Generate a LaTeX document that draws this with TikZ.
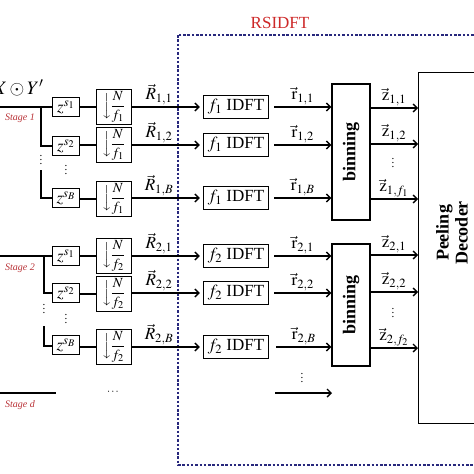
\documentclass[tikz,border=0pt]{standalone}
\usepackage{mathptmx}
\usepackage{fontspec}
\setmainfont{Liberation Serif}
\usetikzlibrary{arrows.meta}
\definecolor{rsred}{RGB}{205,40,40}
\definecolor{stred}{RGB}{185,50,55}
\definecolor{navy}{RGB}{40,40,125}
\newcommand{\dsamp}[1]{$\Big\downarrow\!\displaystyle\frac{N}{f_{#1}}$}
\begin{document}
\begin{tikzpicture}[x=1pt,y=-1pt,
  font=\fontsize{17}{19}\selectfont,
  blk/.style={draw, line width=1.4pt, inner sep=0pt, fill=white},
  zbox/.style={blk, minimum width=27pt, minimum height=19pt, font=\fontsize{17}{19}\selectfont},
  dsbox/.style={blk, minimum width=35pt, minimum height=35pt, font=\fontsize{14}{16}\selectfont},
  idft/.style={blk, minimum width=65pt, minimum height=23pt},
  binbox/.style={blk, minimum width=38pt, font=\fontsize{18}{20}\selectfont\bfseries},
  conn/.style={line width=1.4pt},
  arr/.style={conn, -{Straight Barb[length=4pt,width=8pt]}},
  stagelbl/.style={text=stred, font=\fontsize{10}{11}\selectfont\itshape},
  lbl/.style={inner sep=1.5pt},
  dotsnode/.style={inner sep=0pt, font=\fontsize{11}{11}\selectfont}]
\path[use as bounding box, clip] (0,0) rectangle (474,474);

% RSIDFT frame
\draw[navy, line width=1.3pt, dash pattern=on 2.5pt off 1.8pt] (178,35) rectangle (500,465);
\node[text=rsred, font=\fontsize{17}{19}\selectfont] (rs) at (280,23) {RSIDFT};

% ---------------- Stage 1 ----------------
\node[anchor=east, font=\fontsize{19}{21}\selectfont] (xin) at (47,88) {$X\odot Y'$};
\node[stagelbl] (st1) at (20,118) {Stage 1};
\node[zbox] (z11) at (66,107) {$z^{s_1}$};
\node[zbox] (z12) at (66,146) {$z^{s_2}$};
\node[zbox] (z1B) at (66,198) {$z^{s_B}$};
\node[dsbox] (d11) at (114,107) {\dsamp{1}};
\node[dsbox] (d12) at (114,145) {\dsamp{1}};
\node[dsbox] (d1B) at (114,199) {\dsamp{1}};
\node[idft] (i11) at (236,107) {$f_1$ IDFT};
\node[idft] (i12) at (236,145) {$f_1$ IDFT};
\node[idft] (i1B) at (236,198) {$f_1$ IDFT};
\node[binbox, minimum height=136pt] (bin1) at (351,152) {\rotatebox{90}{binning}};

\coordinate (in1) at (0,107);
\coordinate (b11) at (41,107);
\coordinate (b12) at (41,146);
\coordinate (b1t) at (41,170);
\coordinate (b1B) at (41,198);
\draw[conn] (in1) -- (z11.west);
\draw[conn] (b11) -- (b12) -- (z12.west);
\draw[conn] (b1t) -- (b1B) -- (z1B.west);
\node[dotsnode] (dv1a) at (41,157) {$\vdots$};
\node[dotsnode] (dv1b) at (66,167) {$\vdots$};

\draw[conn] (z11) -- (d11);
\draw[conn] (z12.east |- d12) -- (d12);
\draw[conn] (z1B.east |- d1B) -- (d1B);
\draw[arr, shorten >=3pt] (d11) -- node[lbl, above, pos=0.38] {$\vec{R}_{1,1}$} (i11);
\draw[arr, shorten >=3pt] (d12) -- node[lbl, above, pos=0.38] {$\vec{R}_{1,2}$} (i12);
\draw[arr, shorten >=3pt] (d1B.east |- i1B) -- node[lbl, above, pos=0.38] {$\vec{R}_{1,B}$} (i1B);

\draw[arr] ([xshift=5pt]i11.east) -- node[lbl, above] {$\vec{\mathrm{r}}_{1,1}$} (bin1.west |- i11);
\draw[arr] ([xshift=5pt]i12.east) -- node[lbl, above] {$\vec{\mathrm{r}}_{1,2}$} (bin1.west |- i12);
\draw[arr] ([xshift=5pt]i1B.east) -- node[lbl, above] {$\vec{\mathrm{r}}_{1,B}$} (bin1.west |- i1B);

% Peeling decoder
\node[blk, minimum width=90pt, minimum height=351pt, anchor=north west] (pd) at (418,72) {};
\node[align=center, rotate=90, font=\fontsize{18}{19}\selectfont\bfseries] (pdt) at (452,233) {Peeling\\Decoder};

\coordinate (o11) at (370,108);
\coordinate (o12) at (370,144);
\coordinate (o1f) at (370,199);
\draw[arr] (o11) -- node[lbl, above] {$\vec{\mathrm{z}}_{1,1}$} (pd.west |- o11);
\draw[arr] (o12) -- node[lbl, above] {$\vec{\mathrm{z}}_{1,2}$} (pd.west |- o12);
\draw[arr] (o1f) -- node[lbl, above] {$\vec{\mathrm{z}}_{1,f_1}$} (pd.west |- o1f);
\node[dotsnode] (dz1) at (393,160) {$\vdots$};

% ---------------- Stage 2 ----------------
\node[stagelbl] (st2) at (20,268) {Stage 2};
\node[zbox] (z21) at (66,256) {$z^{s_1}$};
\node[zbox] (z22) at (66,293) {$z^{s_2}$};
\node[zbox] (z2B) at (66,345) {$z^{s_B}$};
\node[dsbox] (d21) at (114,256) {\dsamp{2}};
\node[dsbox] (d22) at (114,294) {\dsamp{2}};
\node[dsbox] (d2B) at (114,347) {\dsamp{2}};
\node[idft] (i21) at (236,256) {$f_2$ IDFT};
\node[idft] (i22) at (236,293) {$f_2$ IDFT};
\node[idft] (i2B) at (236,347) {$f_2$ IDFT};
\node[binbox, minimum height=122pt] (bin2) at (351,305) {\rotatebox{90}{binning}};

\coordinate (in2) at (0,256);
\coordinate (b21) at (44,256);
\coordinate (b22) at (44,293);
\coordinate (b2t) at (44,326);
\coordinate (b2B) at (44,346);
\draw[conn] (in2) -- (z21.west);
\draw[conn] (b21) -- (b22) -- (z22.west);
\draw[conn] (b2t) -- (b2B) -- (z2B.west |- b2B);
\node[dotsnode] (dv2a) at (44,306) {$\vdots$};
\node[dotsnode] (dv2b) at (66,316) {$\vdots$};

\draw[conn] (z21) -- (d21);
\draw[conn] (z22.east |- d22) -- (d22);
\draw[conn] (z2B.east |- d2B) -- (d2B);
\draw[arr, shorten >=3pt] (d21) -- node[lbl, above, pos=0.38] {$\vec{R}_{2,1}$} (i21);
\draw[arr, shorten >=3pt] (d22.east |- i22) -- node[lbl, above, pos=0.38] {$\vec{R}_{2,2}$} (i22);
\draw[arr, shorten >=3pt] (d2B) -- node[lbl, above, pos=0.38] {$\vec{R}_{2,B}$} (i2B);

\draw[arr] ([xshift=5pt]i21.east) -- node[lbl, above] {$\vec{\mathrm{r}}_{2,1}$} (bin2.west |- i21);
\draw[arr] ([xshift=5pt]i22.east) -- node[lbl, above] {$\vec{\mathrm{r}}_{2,2}$} (bin2.west |- i22);
\draw[arr] ([xshift=7pt]i2B.east) -- node[lbl, above] {$\vec{\mathrm{r}}_{2,B}$} (bin2.west |- i2B);

\coordinate (o21) at (370,255);
\coordinate (o22) at (370,292);
\coordinate (o2f) at (370,348);
\draw[arr] (o21) -- node[lbl, above] {$\vec{\mathrm{z}}_{2,1}$} (pd.west |- o21);
\draw[arr] (o22) -- node[lbl, above] {$\vec{\mathrm{z}}_{2,2}$} (pd.west |- o22);
\draw[arr] (o2f) -- node[lbl, above] {$\vec{\mathrm{z}}_{2,f_2}$} (pd.west |- o2f);
\node[dotsnode] (dz2) at (393,310) {$\vdots$};

% extra arrow
\coordinate (xa) at (275,393);
\coordinate (xb) at (332,393);
\draw[arr] (xa) -- (xb);
\node[dotsnode] (dx) at (302,375) {$\vdots$};

% ---------------- Stage d ----------------
\coordinate (ind) at (0,393);
\coordinate (ind2) at (56,393);
\draw[conn] (ind) -- (ind2);
\node[stagelbl] (std) at (20,405) {Stage d};
\node[dotsnode] (hd) at (113,392) {$\cdots$};
\end{tikzpicture}
\end{document}
